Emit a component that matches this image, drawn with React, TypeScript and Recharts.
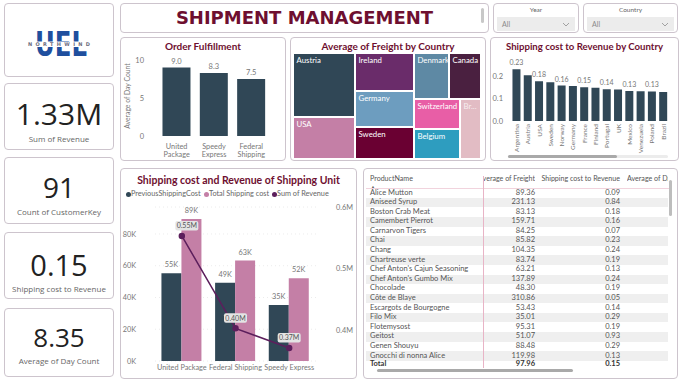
import React from 'react';
import { Bar, BarChart, CartesianGrid, ComposedChart, LabelList, Line, Treemap, XAxis, YAxis } from 'recharts';

// ---- data ----
const kpiValues = ['1.33M', '91', '0.15', '8.35'];
const kpiLabels = ['Sum of Revenue', 'Count of CustomerKey', 'Shipping cost to Revenue', 'Average of Day Count'];

const fulfillShippers = ['United Package', 'Speedy Express', 'Federal Shipping'];
const fulfillDays = [9.0, 8.3, 7.5];

const freightCountries = ['Austria', 'USA', 'Ireland', 'Germany', 'Sweden', 'Denmark', 'Canada', 'Switzerland', 'Belgium', 'Brazil'];
const freightAvg = [184.8, 121.3, 104.2, 98.8, 87.8, 75.3, 68.6, 65.0, 62.8, 57.8];

const ratioCountries = ['Argentina', 'Austria', 'USA', 'Sweden', 'Norway', 'Germany', 'France', 'Finland', 'Portugal', 'UK', 'Mexico', 'Venezuela', 'Poland', 'Brazil'];
const ratioValues = [0.231, 0.204, 0.178, 0.173, 0.158, 0.156, 0.151, 0.148, 0.142, 0.141, 0.134, 0.133, 0.132, 0.129];

const unitNames = ['United Package', 'Federal Shipping', 'Speedy Express'];
const prevShippingCost = [55200, 49300, 35300];
const totalShippingCost = [89400, 63300, 52200];
const unitRevenue = [553000, 403000, 371000];

const productNames = [
  'Alice Mutton', 'Aniseed Syrup', 'Boston Crab Meat', 'Camembert Pierrot', 'Carnarvon Tigers', 'Chai', 'Chang',
  'Chartreuse verte', "Chef Anton's Cajun Seasoning", "Chef Anton's Gumbo Mix", 'Chocolade', 'Côte de Blaye',
  'Escargots de Bourgogne', 'Filo Mix', 'Flotemysost', 'Geitost', 'Genen Shouyu', 'Gnocchi di nonna Alice',
];
const productFreight = [89.36, 231.13, 83.13, 159.71, 84.25, 85.82, 104.35, 83.74, 63.21, 137.89, 48.3, 310.86, 53.43, 35.01, 95.31, 51.07, 88.48, 119.98];
const productRatio = [0.09, 0.84, 0.18, 0.16, 0.07, 0.23, 0.24, 0.19, 0.13, 0.24, 0.19, 0.05, 0.14, 0.29, 0.19, 0.93, 0.29, 0.13];
const totalFreight = 97.96;
const totalRatio = 0.15;

// ---- styling ----
const FONT = 'Lato, "Open Sans", sans-serif';
const KPI_FONT = '"Open Sans", sans-serif';
const MAROON = '#6e0f30';
const SLATE = '#304756';
const PINK = '#c47fa6';
const PLUM = '#5c1f5c';
const BORDER = '#cdc4cd';
const TICK = '#777';
const freightColors = ['#304756', '#c47fa6', '#6a2c6a', '#6d9dbf', '#6a0032', '#5e89a4', '#4a2040', '#e85ea6', '#2e9dbf', '#e2bcc4'];

const fulfillData = fulfillShippers.map((name, i) => ({ name, days: fulfillDays[i] }));
const freightData = freightCountries.map((name, i) => ({ name, value: freightAvg[i] }));
const ratioData = ratioCountries.map((country, i) => ({ country, ratio: ratioValues[i] }));
const unitData = unitNames.map((name, i) => ({
  name,
  prev: prevShippingCost[i],
  total: totalShippingCost[i],
  revenue: unitRevenue[i],
}));

function Panel({ x, y, w, h, children }: any) {
  return (
    <div
      style={{
        position: 'absolute', left: x, top: y, width: w, height: h, boxSizing: 'border-box',
        border: `1px solid ${BORDER}`, borderRadius: 4, background: '#fff', overflow: 'hidden',
      }}
    >
      {children}
    </div>
  );
}

function Title({ text, top, size }: any) {
  return (
    <div
      style={{
        position: 'absolute', left: 0, right: 0, top, textAlign: 'center', fontSize: size,
        fontWeight: 700, color: MAROON, lineHeight: '12px', whiteSpace: 'nowrap',
      }}
    >
      {text}
    </div>
  );
}

function Logo() {
  return (
    <Panel x={4} y={3} w={110} h={74}>
      <svg width={108} height={72} style={{ position: 'absolute', left: 0, top: 0 }}>
        <text x={30} y={52} fontSize={33} fontWeight={700} fontFamily="DejaVu Sans" fill="#1f4f9e" textLength={52} lengthAdjust="spacingAndGlyphs">
          UEL
        </text>
        <rect x={20} y={37.5} width={72} height={5.5} fill="#fff" />
        <text x={23} y={42.3} fontSize={5} fontWeight={700} fontFamily="DejaVu Sans" fill="#6d6d7d" textLength={62} lengthAdjust="spacing">
          NORTHWIND
        </text>
      </svg>
    </Panel>
  );
}

const kpiTops = [83, 157, 232, 308];
const kpiHeights = [67, 67, 67, 69];
const kpiSizes = [30, 28, 29, 26];
const kpiNumCenters = [31.5, 31, 33, 30];
const kpiLabelCenters = [55, 54, 56, 52];

function Kpi({ i }: { i: number }) {
  const size = kpiSizes[i];
  return (
    <Panel x={4} y={kpiTops[i]} w={110} h={kpiHeights[i]}>
      <div
        style={{
          position: 'absolute', left: 0, right: 0, top: kpiNumCenters[i] - 0.431 * size - 1,
          fontFamily: KPI_FONT, fontSize: size, lineHeight: `${size * 0.8}px`, textAlign: 'center', color: '#222',
        }}
      >
        {kpiValues[i]}
      </div>
      <div
        style={{
          position: 'absolute', left: 0, right: 0, top: kpiLabelCenters[i] - 5.5,
          fontFamily: KPI_FONT, fontSize: 8, lineHeight: '9px', textAlign: 'center', color: '#666', whiteSpace: 'nowrap',
        }}
      >
        {kpiLabels[i]}
      </div>
    </Panel>
  );
}

function Header() {
  return (
    <Panel x={120} y={3} w={369} h={30}>
      <div
        style={{
          position: 'absolute', left: 0, right: 0, top: 4, textAlign: 'center', fontFamily: 'DejaVu Sans',
          fontWeight: 700, fontSize: 18, lineHeight: '20px', color: MAROON,
        }}
      >
        SHIPMENT MANAGEMENT
      </div>
      <div style={{ position: 'absolute', left: 360, top: 4, width: 3, height: 15, background: '#c8c8c8', borderRadius: 2 }} />
    </Panel>
  );
}

function Slicer({ x, w, label }: any) {
  return (
    <Panel x={x} y={3} w={w} h={30}>
      <div style={{ position: 'absolute', left: 0, right: 0, top: 1, fontSize: 6.5, lineHeight: '9px', textAlign: 'center', color: '#666' }}>
        {label}
      </div>
      <div style={{ position: 'absolute', left: 3, top: 13, width: w - 8, height: 14, background: '#ececec' }}>
        <span style={{ position: 'absolute', left: 5, top: 2, fontSize: 7, lineHeight: '10px', color: '#8a8a8a' }}>All</span>
        <svg width={8} height={6} style={{ position: 'absolute', right: 5, top: 5 }}>
          <polyline points="1,1 4,4 7,1" fill="none" stroke="#999" strokeWidth={0.9} />
        </svg>
      </div>
    </Panel>
  );
}

function FulfillTick({ x, y, payload }: any) {
  const [a, b] = String(payload.value).split(' ');
  return (
    <text x={x} y={y} textAnchor="middle" fontSize={7.3} fill={TICK} fontFamily={FONT}>
      <tspan x={x} dy={5}>{a}</tspan>
      <tspan x={x} dy={7.5}>{b}</tspan>
    </text>
  );
}

function FulfillPanel() {
  return (
    <Panel x={120} y={37} w={166} h={124}>
      <Title text="Order Fulfillment" top={2} size={10} />
      <div
        style={{
          position: 'absolute', left: 6 - 40, top: 58 - 5, width: 80, textAlign: 'center', fontSize: 6.8,
          lineHeight: '10px', color: TICK, transform: 'rotate(-90deg)', whiteSpace: 'nowrap',
        }}
      >
        Average of Day Count
      </div>
      <div style={{ position: 'absolute', left: 0, top: 0 }}>
        <BarChart width={164} height={122} data={fulfillData} margin={{ top: 22, right: 15, bottom: 1, left: 0 }} barCategoryGap="12%">
          <XAxis dataKey="name" interval={0} axisLine={false} tickLine={false} height={23} tick={<FulfillTick />} />
          <YAxis
            domain={[0, 10]}
            ticks={[0, 5, 10]}
            width={37}
            axisLine={false}
            tickLine={false}
            tickMargin={8}
            tick={{ fontSize: 7.5, fill: TICK, fontFamily: FONT }}
          />
          <Bar dataKey="days" fill={SLATE} isAnimationActive={false}>
            <LabelList
              dataKey="days"
              position="top"
              offset={4}
              formatter={(v: any) => Number(v).toFixed(1)}
              fontSize={7.5}
              fill={TICK}
              fontFamily={FONT}
            />
          </Bar>
        </BarChart>
      </div>
    </Panel>
  );
}

function FreightTile(props: any) {
  const { x, y, width, height, depth, name } = props;
  if (depth !== 1) return <g />;
  const i = freightCountries.indexOf(name);
  const short = width < 30;
  return (
    <g>
      <rect x={x} y={y} width={width} height={height} fill={freightColors[i]} stroke="#fff" strokeWidth={2} />
      <text x={x + 3.5} y={y + 10} fontSize={7.8} fill={short ? '#f7eef0' : '#fff'} fontFamily={FONT}>
        {short ? `${name.slice(0, 2)}...` : name}
      </text>
    </g>
  );
}

function FreightPanel() {
  return (
    <Panel x={290} y={37} w={196} h={124}>
      <Title text="Average of Freight by Country" top={2} size={10} />
      <div style={{ position: 'absolute', left: 2, top: 15 }}>
        <Treemap
          width={188}
          height={106}
          data={freightData}
          dataKey="value"
          nameKey="name"
          isAnimationActive={false}
          content={<FreightTile />}
        />
      </div>
    </Panel>
  );
}

function RotTick({ x, y, payload }: any) {
  return (
    <text transform={`translate(${x + 2.3},${y - 5}) rotate(-90)`} textAnchor="end" fontSize={6.5} fill={TICK} fontFamily={FONT}>
      {payload.value}
    </text>
  );
}

function RatioLabel({ x, y, width, value, index }: any) {
  if (index % 2 !== 0) return null;
  return (
    <text x={x + width / 2} y={y - 4} textAnchor="middle" fontSize={7} fill={TICK} fontFamily={FONT}>
      {Number(value).toFixed(2)}
    </text>
  );
}

function RatioPanel() {
  return (
    <Panel x={490} y={37} w={189} h={124}>
      <Title text="Shipping cost to Revenue by Country" top={3} size={9.6} />
      <div style={{ position: 'absolute', left: 0, top: 0 }}>
        <BarChart width={187} height={122} data={ratioData} margin={{ top: 27, right: 9, bottom: 0, left: 0 }} barCategoryGap="13%">
          <XAxis dataKey="country" interval={0} axisLine={false} tickLine={false} height={39} tick={<RotTick />} />
          <YAxis
            domain={[0, 0.25]}
            ticks={[0, 0.1, 0.2]}
            width={20}
            axisLine={false}
            tickLine={false}
            tickFormatter={(v: number) => v.toFixed(1)}
            tick={{ fontSize: 7.5, fill: TICK, fontFamily: FONT }}
          />
          <Bar dataKey="ratio" fill={SLATE} isAnimationActive={false}>
            <LabelList dataKey="ratio" content={<RatioLabel />} />
          </Bar>
        </BarChart>
      </div>
      <div style={{ position: 'absolute', left: 17, top: 117, width: 160, height: 3, background: '#ececec', borderRadius: 2 }} />
      <div style={{ position: 'absolute', left: 17, top: 117, width: 109, height: 3, background: '#a9a9a9', borderRadius: 2 }} />
    </Panel>
  );
}

function UnitTick({ x, y, payload }: any) {
  return (
    <text x={x} y={y + 1} textAnchor="middle" fontSize={7.3} fill={TICK} fontFamily={FONT}>
      {payload.value}
    </text>
  );
}

function RevLabel({ x, y, value, index }: any) {
  const cx = x + (index === 0 ? 5 : 0);
  return (
    <g>
      <rect x={cx - 11.5} y={y - 15} width={23} height={9.5} rx={2} fill="#e4e4e4" />
      <text x={cx} y={y - 7.8} textAnchor="middle" fontSize={7} fill="#555" fontFamily={FONT}>
        {`${(Number(value) / 1e6).toFixed(2)}M`}
      </text>
    </g>
  );
}

const legendItems = [
  { label: 'PreviousShippingCost', color: SLATE, dot: 5, text: 10 },
  { label: 'Total Shipping cost', color: PINK, dot: 83, text: 88 },
  { label: 'Sum of Revenue', color: PLUM, dot: 151, text: 156 },
];

function UnitPanel() {
  const tickStyle = { fontSize: 7.3, fill: TICK, fontFamily: FONT };
  return (
    <Panel x={120} y={168} w={237} h={211}>
      <Title text="Shipping cost and Revenue of Shipping Unit" top={5} size={10.5} />
      {legendItems.map((it) => (
        <React.Fragment key={it.label}>
          <div style={{ position: 'absolute', left: it.dot, top: 22.5, width: 5, height: 5, borderRadius: 3, background: it.color }} />
          <div style={{ position: 'absolute', left: it.text, top: 20, fontSize: 7.3, lineHeight: '10px', color: '#666', whiteSpace: 'nowrap' }}>
            {it.label}
          </div>
        </React.Fragment>
      ))}
      <div style={{ position: 'absolute', left: 0, top: 0 }}>
        <ComposedChart width={235} height={209} data={unitData} margin={{ top: 38, right: 4, bottom: 3, left: 0 }} barCategoryGap="12%" barGap={0}>
          <CartesianGrid yAxisId="left" vertical={false} stroke="#ececec" strokeDasharray="1 3" />
          <XAxis dataKey="name" interval={0} axisLine={false} tickLine={false} height={14} tick={<UnitTick />} />
          <YAxis
            yAxisId="left"
            domain={[0, 97000]}
            ticks={[0, 20000, 40000, 60000, 80000]}
            width={34}
            axisLine={false}
            tickLine={false}
            tickMargin={13}
            tickFormatter={(v: number) => `${v / 1000}K`}
            tick={tickStyle}
          />
          <YAxis
            yAxisId="right"
            orientation="right"
            domain={[350000, 600000]}
            ticks={[400000, 500000, 600000]}
            width={36}
            axisLine={false}
            tickLine={false}
            tickMargin={14}
            tickFormatter={(v: number) => `${(v / 1e6).toFixed(1)}M`}
            tick={tickStyle}
          />
          <Bar yAxisId="left" dataKey="prev" fill={SLATE} isAnimationActive={false}>
            <LabelList dataKey="prev" position="top" offset={6} formatter={(v: any) => `${Math.round(Number(v) / 1000)}K`} fontSize={7.3} fill={TICK} fontFamily={FONT} />
          </Bar>
          <Bar yAxisId="left" dataKey="total" fill={PINK} isAnimationActive={false}>
            <LabelList dataKey="total" position="top" offset={6} formatter={(v: any) => `${Math.round(Number(v) / 1000)}K`} fontSize={7.3} fill={TICK} fontFamily={FONT} />
          </Bar>
          <Line
            yAxisId="right"
            dataKey="revenue"
            stroke={PLUM}
            strokeWidth={1.5}
            dot={{ r: 2.5, fill: PLUM, stroke: PLUM }}
            isAnimationActive={false}
          >
            <LabelList dataKey="revenue" content={<RevLabel />} />
          </Line>
        </ComposedChart>
      </div>
    </Panel>
  );
}

const ROW0 = 24;
const ROWH = 9.59;

function ProductTable() {
  const cell = { position: 'absolute' as const, fontSize: 7.5, lineHeight: '10px', color: '#555', whiteSpace: 'nowrap' as const };
  const head = { ...cell, fontSize: 7.1, top: 5 };
  const totalCenter = ROW0 + (productNames.length - 1) * ROWH + 8.2;
  return (
    <Panel x={363} y={168} w={315} h={211}>
      {/* header */}
      <div style={{ ...head, left: 6 }}>ProductName</div>
      <div style={{ ...cell, left: 7, top: 13, fontSize: 4, color: '#666' }}>▲</div>
      <div style={{ ...head, left: 120, width: 51, display: 'flex', justifyContent: 'flex-end', overflow: 'hidden' }}>
        <span>Average of Freight</span>
      </div>
      <div style={{ ...head, left: 166, width: 90, textAlign: 'right' }}>Shipping cost to Revenue</div>
      <div style={{ ...head, left: 263, width: 41, overflow: 'hidden' }}>Average of Day Count</div>
      <div style={{ position: 'absolute', left: 2, top: 19, width: 303, height: 1, background: '#f1d3dd' }} />
      {/* rows */}
      {productNames.map((name, i) => {
        const c = ROW0 + i * ROWH;
        return (
          <React.Fragment key={name}>
            {i % 2 === 1 && <div style={{ position: 'absolute', left: 2, top: c - ROWH / 2, width: 302, height: ROWH, background: '#efefef' }} />}
            <div style={{ ...cell, left: 6, top: c - 5.5 }}>{name}</div>
            <div style={{ ...cell, left: 110, top: c - 5.5, width: 61, textAlign: 'right' }}>{productFreight[i].toFixed(2)}</div>
            <div style={{ ...cell, left: 200, top: c - 5.5, width: 56, textAlign: 'right' }}>{productRatio[i].toFixed(2)}</div>
          </React.Fragment>
        );
      })}
      <div style={{ ...cell, left: 6, top: totalCenter - 5.5, fontWeight: 700, color: '#333' }}>Total</div>
      <div style={{ ...cell, left: 110, top: totalCenter - 5.5, width: 61, textAlign: 'right', fontWeight: 700, color: '#333' }}>{totalFreight.toFixed(2)}</div>
      <div style={{ ...cell, left: 200, top: totalCenter - 5.5, width: 56, textAlign: 'right', fontWeight: 700, color: '#333' }}>{totalRatio.toFixed(2)}</div>
      <div style={{ position: 'absolute', left: 119, top: 7, width: 1, height: 192, background: '#e8b4c6' }} />
      <div style={{ position: 'absolute', left: 305, top: 11, width: 3, height: 36, background: '#bdbdbd', borderRadius: 2 }} />
      <div style={{ position: 'absolute', left: 13, top: 200, width: 196, height: 3, background: '#a9a9a9', borderRadius: 2 }} />
    </Panel>
  );
}

export default function App() {
  return (
    <div style={{ position: 'absolute', left: 0, top: 0, width: 680, height: 381, background: '#fff', fontFamily: FONT, overflow: 'hidden' }}>
      <Logo />
      {kpiValues.map((_, i) => (
        <Kpi key={i} i={i} />
      ))}
      <Header />
      <Slicer x={493} w={86} label="Year" />
      <Slicer x={583} w={95} label="Country" />
      <FulfillPanel />
      <FreightPanel />
      <RatioPanel />
      <UnitPanel />
      <ProductTable />
    </div>
  );
}
